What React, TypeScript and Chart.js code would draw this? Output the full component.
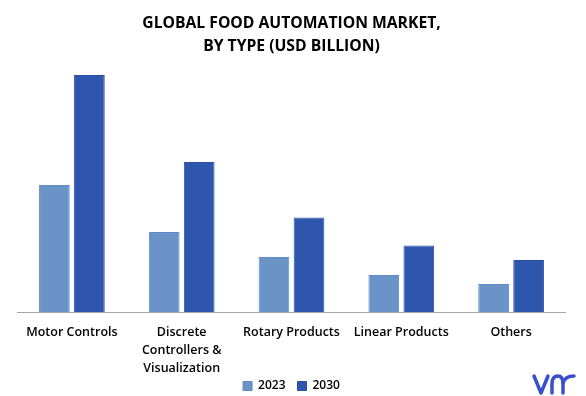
import React, { useEffect, useRef } from "react";
import { Chart, registerables } from "chart.js";

Chart.register(...registerables);

const categories: (string | string[])[] = [
  "Motor Controls",
  ["Discrete", "Controllers &", "Visualization"],
  "Rotary Products",
  "Linear Products",
  "Others",
];
const series2023 = [12.7, 8.0, 5.5, 3.7, 2.8];
const series2030 = [23.7, 15.0, 9.45, 6.65, 5.2];
const seriesLabels = ["2023", "2030"];
const titleLines = ["GLOBAL FOOD AUTOMATION MARKET,", "BY TYPE (USD BILLION)"];

const SHRINK = 12;

const extras = {
  id: "extras",
  afterLayout(chart: any) {
    const x = chart.scales.x;
    if (x) x.bottom += SHRINK;
  },
  afterDraw(chart: any) {
    const { ctx, chartArea } = chart;
    ctx.save();
    ctx.strokeStyle = "#a6a6a6";
    ctx.lineWidth = 1;
    ctx.beginPath();
    const y = Math.round(chartArea.bottom) + 0.5;
    ctx.moveTo(chartArea.left, y);
    ctx.lineTo(chartArea.right, y);
    ctx.stroke();
    // logo
    ctx.strokeStyle = "#3a4fcc";
    ctx.lineWidth = 3.5;
    ctx.lineCap = "round";
    ctx.lineJoin = "round";
    ctx.beginPath();
    ctx.moveTo(534, 376);
    ctx.lineTo(541, 393);
    ctx.lineTo(548, 376);
    ctx.stroke();
    ctx.beginPath();
    ctx.moveTo(552, 393);
    ctx.lineTo(552, 384);
    ctx.quadraticCurveTo(552, 376, 558, 376);
    ctx.quadraticCurveTo(563, 376, 563, 384);
    ctx.lineTo(563, 393);
    ctx.stroke();
    ctx.beginPath();
    ctx.moveTo(563, 383);
    ctx.quadraticCurveTo(565, 376, 574, 376);
    ctx.stroke();
    ctx.restore();
  },
};

export default function App() {
  const ref = useRef<HTMLCanvasElement | null>(null);
  useEffect(() => {
    if (!ref.current) return;
    const chart = new Chart(ref.current, {
      type: "bar",
      data: {
        labels: categories as any,
        datasets: [
          {
            label: seriesLabels[0],
            data: series2023,
            backgroundColor: "#6a93c8",
            borderColor: "#5f8ac4",
            borderWidth: 1,
            categoryPercentage: 0.6375,
            barPercentage: 0.877,
          },
          {
            label: seriesLabels[1],
            data: series2030,
            backgroundColor: "#2e56ad",
            borderColor: "#2a4fa6",
            borderWidth: 1,
            categoryPercentage: 0.6375,
            barPercentage: 0.877,
          },
        ],
      },
      options: {
        animation: false,
        responsive: true,
        maintainAspectRatio: false,
        layout: { padding: { left: 17, right: 20, top: 12, bottom: -6 } },
        plugins: {
          title: {
            display: true,
            text: titleLines,
            color: "#000",
            font: { family: "'Open Sans'", size: 15.7, weight: "bold", lineHeight: 1.485 },
            padding: { top: 0, bottom: 3.4 },
          },
          legend: {
            position: "bottom",
            labels: {
              boxWidth: 9,
              boxHeight: 9,
              color: "#000",
              font: { family: "'Open Sans'", size: 12, weight: "600" },
              padding: 12,
            },
          },
          tooltip: { enabled: false },
        },
        scales: {
          x: {
            grid: { display: false },
            border: { display: false },
            ticks: {
              color: "#000",
              font: { family: "'Open Sans'", size: 12.5, weight: "600", lineHeight: 1.44 },
              maxRotation: 0,
              autoSkip: false,
              padding: 3,
            },
            afterFit(scale: any) {
              scale.height -= SHRINK;
            },
          },
          y: {
            display: false,
            min: 0,
            max: 25,
          },
        },
      },
      plugins: [extras],
    });
    return () => chart.destroy();
  }, []);
  return (
    <div style={{ position: "fixed", left: 0, top: 0, width: 586, height: 396 }}>
      <canvas ref={ref} />
    </div>
  );
}
